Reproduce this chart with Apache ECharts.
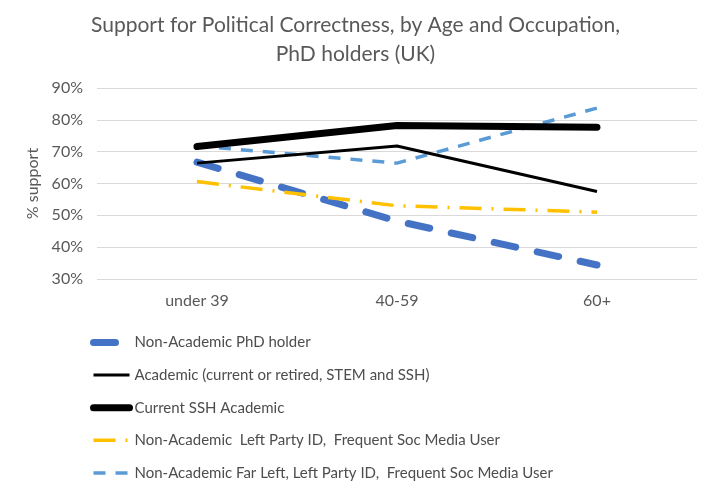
<!DOCTYPE html>
<html>
<head>
<meta charset="utf-8">
<script src="https://cdn.jsdelivr.net/npm/echarts@6/dist/echarts.min.js"></script>
<style>
  html, body { margin: 0; padding: 0; background: #fff; }
  #chart { width: 711px; height: 495px; }
</style>
</head>
<body>
<div id="chart"></div>
<script>
// categories and values (% support)
const ageGroups = ['under 39', '40-59', '60+']
const nonAcademic = [66.7, 48.2, 34.4]
const academic = [66.4, 71.8, 57.5]
const sshAcademic = [71.6, 78.2, 77.7]
const nonAcadLeft = [60.6, 53.0, 51.0]
const nonAcadFarLeft = [71.8, 66.4, 83.7]
const yTicks = [30, 40, 50, 60, 70, 80, 90]

const names = [
  'Non-Academic PhD holder',
  'Academic (current or retired, STEM and SSH)',
  'Current SSH Academic',
  'Non-Academic  Left Party ID,  Frequent Soc Media User',
  'Non-Academic Far Left, Left Party ID,  Frequent Soc Media User'
]

const chart = echarts.init(document.getElementById('chart'))
const font = 'Lato, "Liberation Sans", sans-serif'

// line styles shared by series and legend
const styles = [
  { width: 7, type: [22, 22], cap: 'round', color: '#4472c4' },
  { width: 3, type: 'solid', color: '#000' },
  { width: 7, type: 'solid', cap: 'round', color: '#000' },
  { width: 3.5, type: [22, 10, 2, 10], color: '#ffc000' },
  { width: 3.5, type: [12, 10], color: '#5b9bd5' }
]
const series = [nonAcademic, academic, sshAcademic, nonAcadLeft, nonAcadFarLeft]

const option = {
  animation: false,
  title: {
    text: 'Support for Political Correctness, by Age and Occupation,\nPhD holders (UK)',
    left: 'center',
    top: 6,
    textStyle: { fontFamily: font, fontSize: 21, fontWeight: 'normal', color: '#595959', lineHeight: 29 }
  },
  grid: { left: 97, right: 14, top: 88, bottom: 216 },
  legend: {
    orient: 'vertical',
    left: 90,
    top: 335,
    height: 160,
    padding: 0,
    itemWidth: 36,
    itemHeight: 14,
    itemGap: 17.6,
    textStyle: { fontFamily: font, fontSize: 15, color: '#4d4d4d' },
    data: names.map((n, i) => ({
      name: n,
      itemStyle: { opacity: 0 },
      lineStyle: { width: styles[i].width, type: styles[i].type, color: styles[i].color, cap: styles[i].cap || 'butt' }
    }))
  },
  xAxis: {
    type: 'category',
    data: ageGroups,
    boundaryGap: true,
    axisLine: { show: false },
    axisTick: { show: false },
    axisLabel: { fontFamily: font, fontSize: 16, color: '#595959', margin: 14 }
  },
  yAxis: {
    type: 'value',
    min: yTicks[0],
    max: yTicks[yTicks.length - 1],
    interval: 10,
    name: '% support',
    nameLocation: 'middle',
    nameRotate: 90,
    nameGap: 55,
    nameTextStyle: { fontFamily: font, fontSize: 16, color: '#595959' },
    axisLabel: { formatter: '{value}%', fontFamily: font, fontSize: 16, color: '#595959', margin: 14 },
    splitLine: { lineStyle: { color: '#d9d9d9', width: 1 } }
  },
  series: series.map((d, i) => ({
    name: names[i],
    type: 'line',
    data: d,
    symbol: 'none',
    color: styles[i].color,
    lineStyle: styles[i],
    z: (i === 1 || i === 2) ? 3 : 2
  }))
}

chart.setOption(option)
</script>
</body>
</html>
